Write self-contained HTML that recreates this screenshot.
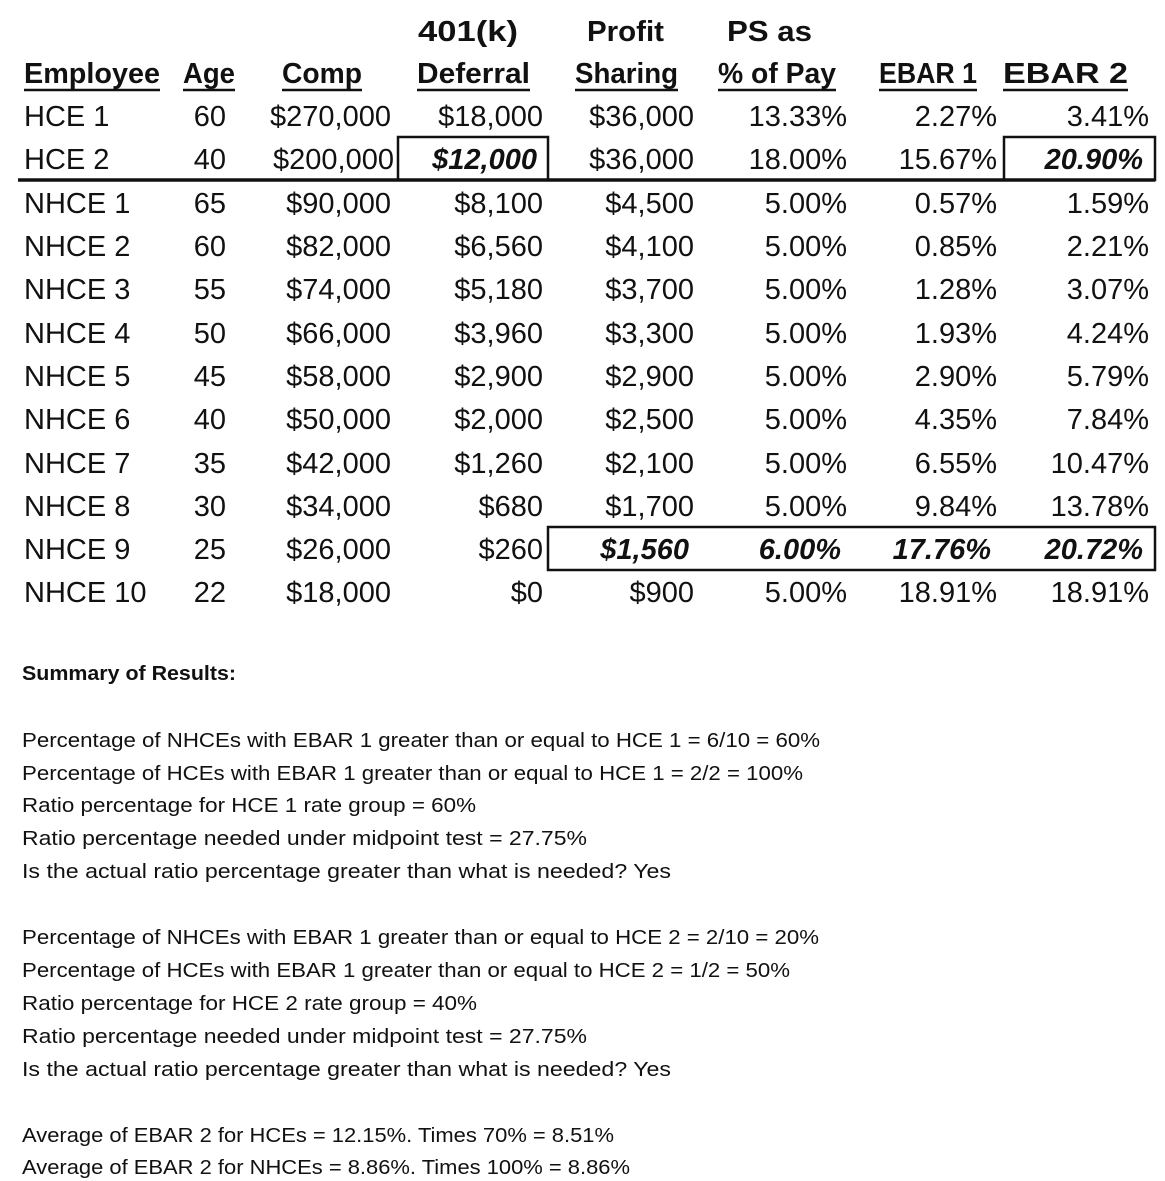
<!DOCTYPE html>
<html><head><meta charset="utf-8"><style>
html,body{margin:0;padding:0;background:#fff;}
svg{display:block;}
text{font-family:"Liberation Sans",sans-serif;fill:#111;}
.h{font-weight:bold;font-size:29px;}
.t{font-size:29px;}
.s{font-size:20px;}
</style></head><body>
<svg width="1165" height="1181" viewBox="0 0 1165 1181" xmlns="http://www.w3.org/2000/svg">
<rect width="1165" height="1181" fill="#fff"/>
<!-- header row 1 -->
<text class="h" x="418" y="41" textLength="100" lengthAdjust="spacingAndGlyphs">401(k)</text>
<text class="h" x="587" y="41" textLength="77" lengthAdjust="spacingAndGlyphs">Profit</text>
<text class="h" x="727" y="41" textLength="85" lengthAdjust="spacingAndGlyphs">PS as</text>
<!-- header row 2 -->
<g class="h">
<text class="h" x="24" y="83" textLength="136" lengthAdjust="spacingAndGlyphs">Employee</text>
<text class="h" x="183" y="83" textLength="52" lengthAdjust="spacingAndGlyphs">Age</text>
<text class="h" x="282" y="83" textLength="80" lengthAdjust="spacingAndGlyphs">Comp</text>
<text class="h" x="417" y="83" textLength="113" lengthAdjust="spacingAndGlyphs">Deferral</text>
<text class="h" x="575" y="83" textLength="103" lengthAdjust="spacingAndGlyphs">Sharing</text>
<text class="h" x="718" y="83" textLength="118" lengthAdjust="spacingAndGlyphs">% of Pay</text>
<text class="h" x="879" y="83" textLength="98" lengthAdjust="spacingAndGlyphs">EBAR 1</text>
<text class="h" x="1003" y="83" textLength="125" lengthAdjust="spacingAndGlyphs">EBAR 2</text>
</g>
<g stroke="#111" stroke-width="2.5">
<line x1="24" y1="90" x2="160" y2="90"/>
<line x1="183" y1="90" x2="235" y2="90"/>
<line x1="282" y1="90" x2="362" y2="90"/>
<line x1="417" y1="90" x2="530" y2="90"/>
<line x1="575" y1="90" x2="678" y2="90"/>
<line x1="718" y1="90" x2="836" y2="90"/>
<line x1="879" y1="90" x2="977" y2="90"/>
<line x1="1003" y1="90" x2="1128" y2="90"/>
</g>
<!-- boxes and lines -->
<g fill="none" stroke="#111" stroke-width="2.5">
<rect x="398" y="137" width="150" height="43"/>
<rect x="1004" y="137" width="151" height="43"/>
<rect x="548" y="527" width="607" height="43"/>
</g>
<line x1="18" y1="180" x2="1155" y2="180" stroke="#111" stroke-width="3.5"/>
<!-- rows -->
<g class="t">
<text class="t" x="24" y="126">HCE 1</text>
<text class="t" x="226" y="126" text-anchor="end">60</text>
<text class="t" x="391" y="126" text-anchor="end">$270,000</text>
<text class="t" x="543" y="126" text-anchor="end">$18,000</text>
<text class="t" x="694" y="126" text-anchor="end">$36,000</text>
<text class="t" x="847" y="126" text-anchor="end">13.33%</text>
<text class="t" x="997" y="126" text-anchor="end">2.27%</text>
<text class="t" x="1149" y="126" text-anchor="end">3.41%</text>

<text class="t" x="24" y="169">HCE 2</text>
<text class="t" x="226" y="169" text-anchor="end">40</text>
<text class="t" x="394" y="169" text-anchor="end">$200,000</text>
<text class="t" x="537" y="169" text-anchor="end" font-weight="bold" font-style="italic">$12,000</text>
<text class="t" x="694" y="169" text-anchor="end">$36,000</text>
<text class="t" x="847" y="169" text-anchor="end">18.00%</text>
<text class="t" x="997" y="169" text-anchor="end">15.67%</text>
<text class="t" x="1143" y="169" text-anchor="end" font-weight="bold" font-style="italic">20.90%</text>
</g>
<g>
<text class="t" x="24" y="213">NHCE 1</text><text class="t" x="226" y="213" text-anchor="end">65</text><text class="t" x="391" y="213" text-anchor="end">$90,000</text><text class="t" x="543" y="213" text-anchor="end">$8,100</text><text class="t" x="694" y="213" text-anchor="end">$4,500</text><text class="t" x="847" y="213" text-anchor="end">5.00%</text><text class="t" x="997" y="213" text-anchor="end">0.57%</text><text class="t" x="1149" y="213" text-anchor="end">1.59%</text>
<text class="t" x="24" y="256">NHCE 2</text><text class="t" x="226" y="256" text-anchor="end">60</text><text class="t" x="391" y="256" text-anchor="end">$82,000</text><text class="t" x="543" y="256" text-anchor="end">$6,560</text><text class="t" x="694" y="256" text-anchor="end">$4,100</text><text class="t" x="847" y="256" text-anchor="end">5.00%</text><text class="t" x="997" y="256" text-anchor="end">0.85%</text><text class="t" x="1149" y="256" text-anchor="end">2.21%</text>
<text class="t" x="24" y="299">NHCE 3</text><text class="t" x="226" y="299" text-anchor="end">55</text><text class="t" x="391" y="299" text-anchor="end">$74,000</text><text class="t" x="543" y="299" text-anchor="end">$5,180</text><text class="t" x="694" y="299" text-anchor="end">$3,700</text><text class="t" x="847" y="299" text-anchor="end">5.00%</text><text class="t" x="997" y="299" text-anchor="end">1.28%</text><text class="t" x="1149" y="299" text-anchor="end">3.07%</text>
<text class="t" x="24" y="343">NHCE 4</text><text class="t" x="226" y="343" text-anchor="end">50</text><text class="t" x="391" y="343" text-anchor="end">$66,000</text><text class="t" x="543" y="343" text-anchor="end">$3,960</text><text class="t" x="694" y="343" text-anchor="end">$3,300</text><text class="t" x="847" y="343" text-anchor="end">5.00%</text><text class="t" x="997" y="343" text-anchor="end">1.93%</text><text class="t" x="1149" y="343" text-anchor="end">4.24%</text>
<text class="t" x="24" y="386">NHCE 5</text><text class="t" x="226" y="386" text-anchor="end">45</text><text class="t" x="391" y="386" text-anchor="end">$58,000</text><text class="t" x="543" y="386" text-anchor="end">$2,900</text><text class="t" x="694" y="386" text-anchor="end">$2,900</text><text class="t" x="847" y="386" text-anchor="end">5.00%</text><text class="t" x="997" y="386" text-anchor="end">2.90%</text><text class="t" x="1149" y="386" text-anchor="end">5.79%</text>
<text class="t" x="24" y="429">NHCE 6</text><text class="t" x="226" y="429" text-anchor="end">40</text><text class="t" x="391" y="429" text-anchor="end">$50,000</text><text class="t" x="543" y="429" text-anchor="end">$2,000</text><text class="t" x="694" y="429" text-anchor="end">$2,500</text><text class="t" x="847" y="429" text-anchor="end">5.00%</text><text class="t" x="997" y="429" text-anchor="end">4.35%</text><text class="t" x="1149" y="429" text-anchor="end">7.84%</text>
<text class="t" x="24" y="473">NHCE 7</text><text class="t" x="226" y="473" text-anchor="end">35</text><text class="t" x="391" y="473" text-anchor="end">$42,000</text><text class="t" x="543" y="473" text-anchor="end">$1,260</text><text class="t" x="694" y="473" text-anchor="end">$2,100</text><text class="t" x="847" y="473" text-anchor="end">5.00%</text><text class="t" x="997" y="473" text-anchor="end">6.55%</text><text class="t" x="1149" y="473" text-anchor="end">10.47%</text>
<text class="t" x="24" y="516">NHCE 8</text><text class="t" x="226" y="516" text-anchor="end">30</text><text class="t" x="391" y="516" text-anchor="end">$34,000</text><text class="t" x="543" y="516" text-anchor="end">$680</text><text class="t" x="694" y="516" text-anchor="end">$1,700</text><text class="t" x="847" y="516" text-anchor="end">5.00%</text><text class="t" x="997" y="516" text-anchor="end">9.84%</text><text class="t" x="1149" y="516" text-anchor="end">13.78%</text>
<text class="t" x="24" y="559">NHCE 9</text><text class="t" x="226" y="559" text-anchor="end">25</text><text class="t" x="391" y="559" text-anchor="end">$26,000</text><text class="t" x="543" y="559" text-anchor="end">$260</text>
<g font-weight="bold" font-style="italic"><text class="t" x="689" y="559" text-anchor="end">$1,560</text><text class="t" x="841" y="559" text-anchor="end">6.00%</text><text class="t" x="991" y="559" text-anchor="end">17.76%</text><text class="t" x="1143" y="559" text-anchor="end">20.72%</text></g>
<text class="t" x="24" y="602">NHCE 10</text><text class="t" x="226" y="602" text-anchor="end">22</text><text class="t" x="391" y="602" text-anchor="end">$18,000</text><text class="t" x="543" y="602" text-anchor="end">$0</text><text class="t" x="694" y="602" text-anchor="end">$900</text><text class="t" x="847" y="602" text-anchor="end">5.00%</text><text class="t" x="997" y="602" text-anchor="end">18.91%</text><text class="t" x="1149" y="602" text-anchor="end">18.91%</text>
</g>
<!-- summary -->
<text class="s" x="22" y="680" font-weight="bold" textLength="214" lengthAdjust="spacingAndGlyphs">Summary of Results:</text>
<text class="s" x="22" y="747" textLength="798" lengthAdjust="spacingAndGlyphs">Percentage of NHCEs with EBAR 1 greater than or equal to HCE 1 = 6/10 = 60%</text>
<text class="s" x="22" y="780" textLength="781" lengthAdjust="spacingAndGlyphs">Percentage of HCEs with EBAR 1 greater than or equal to HCE 1 = 2/2 = 100%</text>
<text class="s" x="22" y="812" textLength="454" lengthAdjust="spacingAndGlyphs">Ratio percentage for HCE 1 rate group = 60%</text>
<text class="s" x="22" y="845" textLength="565" lengthAdjust="spacingAndGlyphs">Ratio percentage needed under midpoint test = 27.75%</text>
<text class="s" x="22" y="878" textLength="649" lengthAdjust="spacingAndGlyphs">Is the actual ratio percentage greater than what is needed?  Yes</text>
<text class="s" x="22" y="944" textLength="797" lengthAdjust="spacingAndGlyphs">Percentage of NHCEs with EBAR 1 greater than or equal to HCE 2 = 2/10 = 20%</text>
<text class="s" x="22" y="977" textLength="768" lengthAdjust="spacingAndGlyphs">Percentage of HCEs with EBAR 1 greater than or equal to HCE 2 = 1/2 = 50%</text>
<text class="s" x="22" y="1010" textLength="455" lengthAdjust="spacingAndGlyphs">Ratio percentage for HCE 2 rate group = 40%</text>
<text class="s" x="22" y="1043" textLength="565" lengthAdjust="spacingAndGlyphs">Ratio percentage needed under midpoint test = 27.75%</text>
<text class="s" x="22" y="1076" textLength="649" lengthAdjust="spacingAndGlyphs">Is the actual ratio percentage greater than what is needed?  Yes</text>
<text class="s" x="22" y="1142" textLength="592" lengthAdjust="spacingAndGlyphs">Average of EBAR 2 for HCEs = 12.15%.  Times 70% = 8.51%</text>
<text class="s" x="22" y="1174" textLength="608" lengthAdjust="spacingAndGlyphs">Average of EBAR 2 for NHCEs = 8.86%.  Times 100% = 8.86%</text>
</svg>
</body></html>
